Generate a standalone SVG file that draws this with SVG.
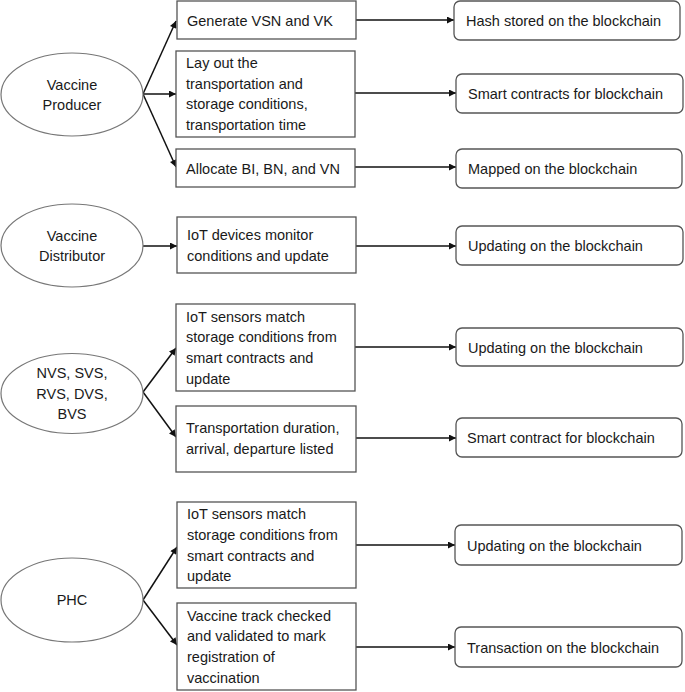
<svg xmlns="http://www.w3.org/2000/svg" width="685" height="692" viewBox="0 0 685 692">
<style>
text{font-family:"Liberation Sans",Arial,sans-serif;font-size:14.5px;fill:#1a1a1a}
.c{text-anchor:middle}
.el{fill:#fff;stroke:#777;stroke-width:1.2}
.bx{fill:#fff;stroke:#555;stroke-width:1.3}
.rb{fill:#fff;stroke:#555;stroke-width:1.3}
.ln{stroke:#111;stroke-width:1.5;fill:none;marker-end:url(#ah)}
</style>
<defs>
<marker id="ah" viewBox="0 0 10 10" refX="10" refY="5" markerWidth="8" markerHeight="7" markerUnits="userSpaceOnUse" orient="auto">
<path d="M0,0 L10,5 L0,10 z" fill="#111"/>
</marker>
</defs>
<rect width="685" height="692" fill="#fff"/>
<g id="connectors">
<line class="ln" x1="143" y1="94" x2="176" y2="21"/>
<line class="ln" x1="143" y1="94" x2="176" y2="94"/>
<line class="ln" x1="143" y1="94" x2="176" y2="167"/>
<line class="ln" x1="356" y1="20" x2="454" y2="20"/>
<line class="ln" x1="355" y1="93" x2="456" y2="93"/>
<line class="ln" x1="355" y1="167" x2="456" y2="167"/>
<line class="ln" x1="143" y1="246" x2="177" y2="246"/>
<line class="ln" x1="356" y1="246" x2="456" y2="246"/>
<line class="ln" x1="143" y1="392" x2="176" y2="348"/>
<line class="ln" x1="143" y1="392" x2="176" y2="437"/>
<line class="ln" x1="355" y1="347" x2="456" y2="347"/>
<line class="ln" x1="356" y1="438" x2="456" y2="438"/>
<line class="ln" x1="143" y1="600" x2="177" y2="547"/>
<line class="ln" x1="143" y1="600" x2="177" y2="645"/>
<line class="ln" x1="356" y1="545" x2="455" y2="545"/>
<line class="ln" x1="356" y1="647" x2="455" y2="647"/>
</g>
<g id="producer"><ellipse class="el" cx="72" cy="94.5" rx="71" ry="41.5"/><text class="c" x="72" y="89.5">Vaccine</text><text class="c" x="72" y="110">Producer</text></g>
<g id="distributor"><ellipse class="el" cx="72" cy="245.5" rx="71" ry="41.5"/><text class="c" x="72" y="240.5">Vaccine</text><text class="c" x="72" y="261">Distributor</text></g>
<g id="nvs"><ellipse class="el" cx="72" cy="393.5" rx="71" ry="40"/><text class="c" x="72" y="378">NVS, SVS,</text><text class="c" x="72" y="398.7">RVS, DVS,</text><text class="c" x="72" y="419.4">BVS</text></g>
<g id="phc"><ellipse class="el" cx="72" cy="600" rx="71" ry="42"/><text class="c" x="72" y="605.2">PHC</text></g>

<g id="b1"><rect class="bx" x="177" y="1" width="179" height="38"/><text x="187" y="25.5">Generate VSN and VK</text></g>
<g id="b2"><rect class="bx" x="176" y="51" width="179" height="86"/><text x="186" y="68">Lay out the</text><text x="186" y="88.7">transportation and</text><text x="186" y="109.4">storage conditions,</text><text x="186" y="130">transportation time</text></g>
<g id="b3"><rect class="bx" x="176" y="149" width="179" height="38"/><text x="186" y="173.5">Allocate BI, BN, and VN</text></g>
<g id="b4"><rect class="bx" x="177" y="217" width="179" height="56"/><text x="187" y="240">IoT devices monitor</text><text x="187" y="260.7">conditions and update</text></g>
<g id="b5"><rect class="bx" x="176" y="304" width="179" height="87"/><text x="186" y="321.5">IoT sensors match</text><text x="186" y="342.2">storage conditions from</text><text x="186" y="362.9">smart contracts and</text><text x="186" y="383.6">update</text></g>
<g id="b6"><rect class="bx" x="176" y="406" width="180" height="66"/><text x="186" y="433">Transportation duration,</text><text x="186" y="453.7">arrival, departure listed</text></g>
<g id="b7"><rect class="bx" x="177" y="502" width="179" height="86"/><text x="187" y="519.2">IoT sensors match</text><text x="187" y="539.9">storage conditions from</text><text x="187" y="560.6">smart contracts and</text><text x="187" y="581.3">update</text></g>
<g id="b8"><rect class="bx" x="177" y="603" width="179" height="87"/><text x="187" y="620.7">Vaccine track checked</text><text x="187" y="641.4">and validated to mark</text><text x="187" y="662.1">registration of</text><text x="187" y="682.8">vaccination</text></g>

<g id="r1"><rect class="rb" x="454" y="1" width="226" height="39" rx="6"/><text x="466" y="26">Hash stored on the blockchain</text></g>
<g id="r2"><rect class="rb" x="456" y="74" width="227" height="39" rx="6"/><text x="468" y="99">Smart contracts for blockchain</text></g>
<g id="r3"><rect class="rb" x="456" y="149" width="226" height="39" rx="6"/><text x="468" y="173.5">Mapped on the blockchain</text></g>
<g id="r4"><rect class="rb" x="456" y="226" width="227" height="39" rx="6"/><text x="468" y="251">Updating on the blockchain</text></g>
<g id="r5"><rect class="rb" x="456" y="328" width="227" height="38" rx="6"/><text x="468" y="352.5">Updating on the blockchain</text></g>
<g id="r6"><rect class="rb" x="456" y="418" width="226" height="39" rx="6"/><text x="467" y="443">Smart contract for blockchain</text></g>
<g id="r7"><rect class="rb" x="455" y="525" width="227" height="40" rx="6"/><text x="467" y="550.5">Updating on the blockchain</text></g>
<g id="r8"><rect class="rb" x="455" y="627" width="227" height="40" rx="6"/><text x="467" y="652.5">Transaction on the blockchain</text></g>
</svg>
